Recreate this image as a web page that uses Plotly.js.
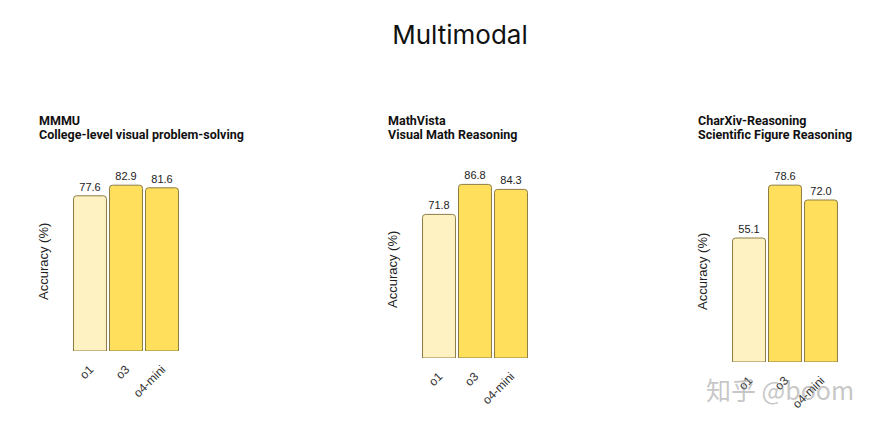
<!DOCTYPE html>
<html>
<head>
<meta charset="utf-8">
<script src="https://cdn.plot.ly/plotly-3.0.1.min.js"></script>
<style>html,body{margin:0;padding:0;background:#fff;}#chart{width:878px;height:425px;}</style>
</head>
<body>
<div id="chart"></div>
<script>
const models = ["o1", "o3", "o4-mini"];
const mmmu = [77.6, 82.9, 81.6];
const mathvista = [71.8, 86.8, 84.3];
const charxiv = [55.1, 78.6, 72.0];
const panelNames = ["MMMU", "MathVista", "CharXiv-Reasoning"];
const panelSubs = ["College-level visual problem-solving", "Visual Math Reasoning", "Scientific Figure Reasoning"];
const barColors = ["#FFF2C2", "#FFDF5C", "#FFDF5C"];
const series = [mmmu, mathvista, charxiv];

const W = 878, H = 425;
const xDom = [[72, 180], [421, 529], [731, 839]];
const yBase = [351, 358, 362];
const yMax = [90, 90, 80];
const pxPerUnit = [2.0, 2.0, 2.25];
const titleX = [37, 386, 696];
const axTitle = [[43, 262], [392, 270], [702, 272]];

const FONT = "'Liberation Sans', Arial, sans-serif";
const TFONT = "Roboto, 'Liberation Sans', Arial, sans-serif";
const data = [];
const layout = {
  width: W, height: H,
  margin: {l: 0, r: 0, t: 0, b: 0},
  paper_bgcolor: "#fff", plot_bgcolor: "#fff",
  showlegend: false,
  bargap: 0.085,
  font: {family: FONT, color: "#222"},
  title: {text: "Multimodal", x: 460 / W, xanchor: "center", y: 1 - 35 / H, yanchor: "middle",
          font: {family: "Inter, sans-serif", size: 26, color: "#111"}},
  annotations: []
};

series.forEach((vals, i) => {
  const sfx = i === 0 ? "" : String(i + 1);
  data.push({
    type: "bar", x: models, y: vals,
    xaxis: "x" + sfx, yaxis: "y" + sfx,
    marker: {color: barColors, line: {color: "#8C7C45", width: 1}, cornerradius: 3},
    text: vals.map(v => v.toFixed(1)), textposition: "outside",
    textfont: {size: 11, color: "#222", family: FONT},
    cliponaxis: false, hoverinfo: "skip"
  });
  const top = yBase[i] - yMax[i] * pxPerUnit[i];
  layout["xaxis" + sfx] = {
    domain: [xDom[i][0] / W, xDom[i][1] / W], anchor: "y" + sfx,
    showgrid: false, zeroline: false, showline: false, ticks: "",
    ticklabelstandoff: 8,
    tickangle: -45, tickfont: {size: 12, color: "#333", family: FONT}, fixedrange: true
  };
  layout["yaxis" + sfx] = {
    domain: [(H - yBase[i]) / H, (H - top) / H], anchor: "x" + sfx,
    range: [0, yMax[i]], showgrid: false, zeroline: false, showline: false,
    showticklabels: false, ticks: "", fixedrange: true
  };
  layout.annotations.push({
    xref: "paper", yref: "paper", x: titleX[i] / W, y: 1 - 121 / H,
    xanchor: "left", yanchor: "middle", align: "left", showarrow: false,
    text: "<b>" + panelNames[i] + "</b>",
    font: {size: 12.5, color: "#111", family: TFONT}
  });
  layout.annotations.push({
    xref: "paper", yref: "paper", x: titleX[i] / W, y: 1 - 134 / H,
    xanchor: "left", yanchor: "middle", align: "left", showarrow: false,
    text: "<b>" + panelSubs[i] + "</b>",
    font: {size: 12.5, color: "#111", family: TFONT}
  });
  layout.annotations.push({
    xref: "paper", yref: "paper", x: axTitle[i][0] / W, y: 1 - axTitle[i][1] / H,
    xanchor: "center", yanchor: "middle", showarrow: false, textangle: -90,
    text: "Accuracy (%)", font: {size: 13, color: "#222", family: FONT}
  });
});

layout.annotations.push({
  xref: "paper", yref: "paper", x: 780 / W, y: 1 - 389 / H,
  xanchor: "center", yanchor: "middle", showarrow: false,
  text: "知乎 @boom", font: {size: 25, color: "rgba(150,150,150,0.55)", family: "'Noto Sans CJK SC', sans-serif"}
});

Plotly.newPlot("chart", data, layout, {displayModeBar: false, staticPlot: true});
</script>
</body>
</html>
